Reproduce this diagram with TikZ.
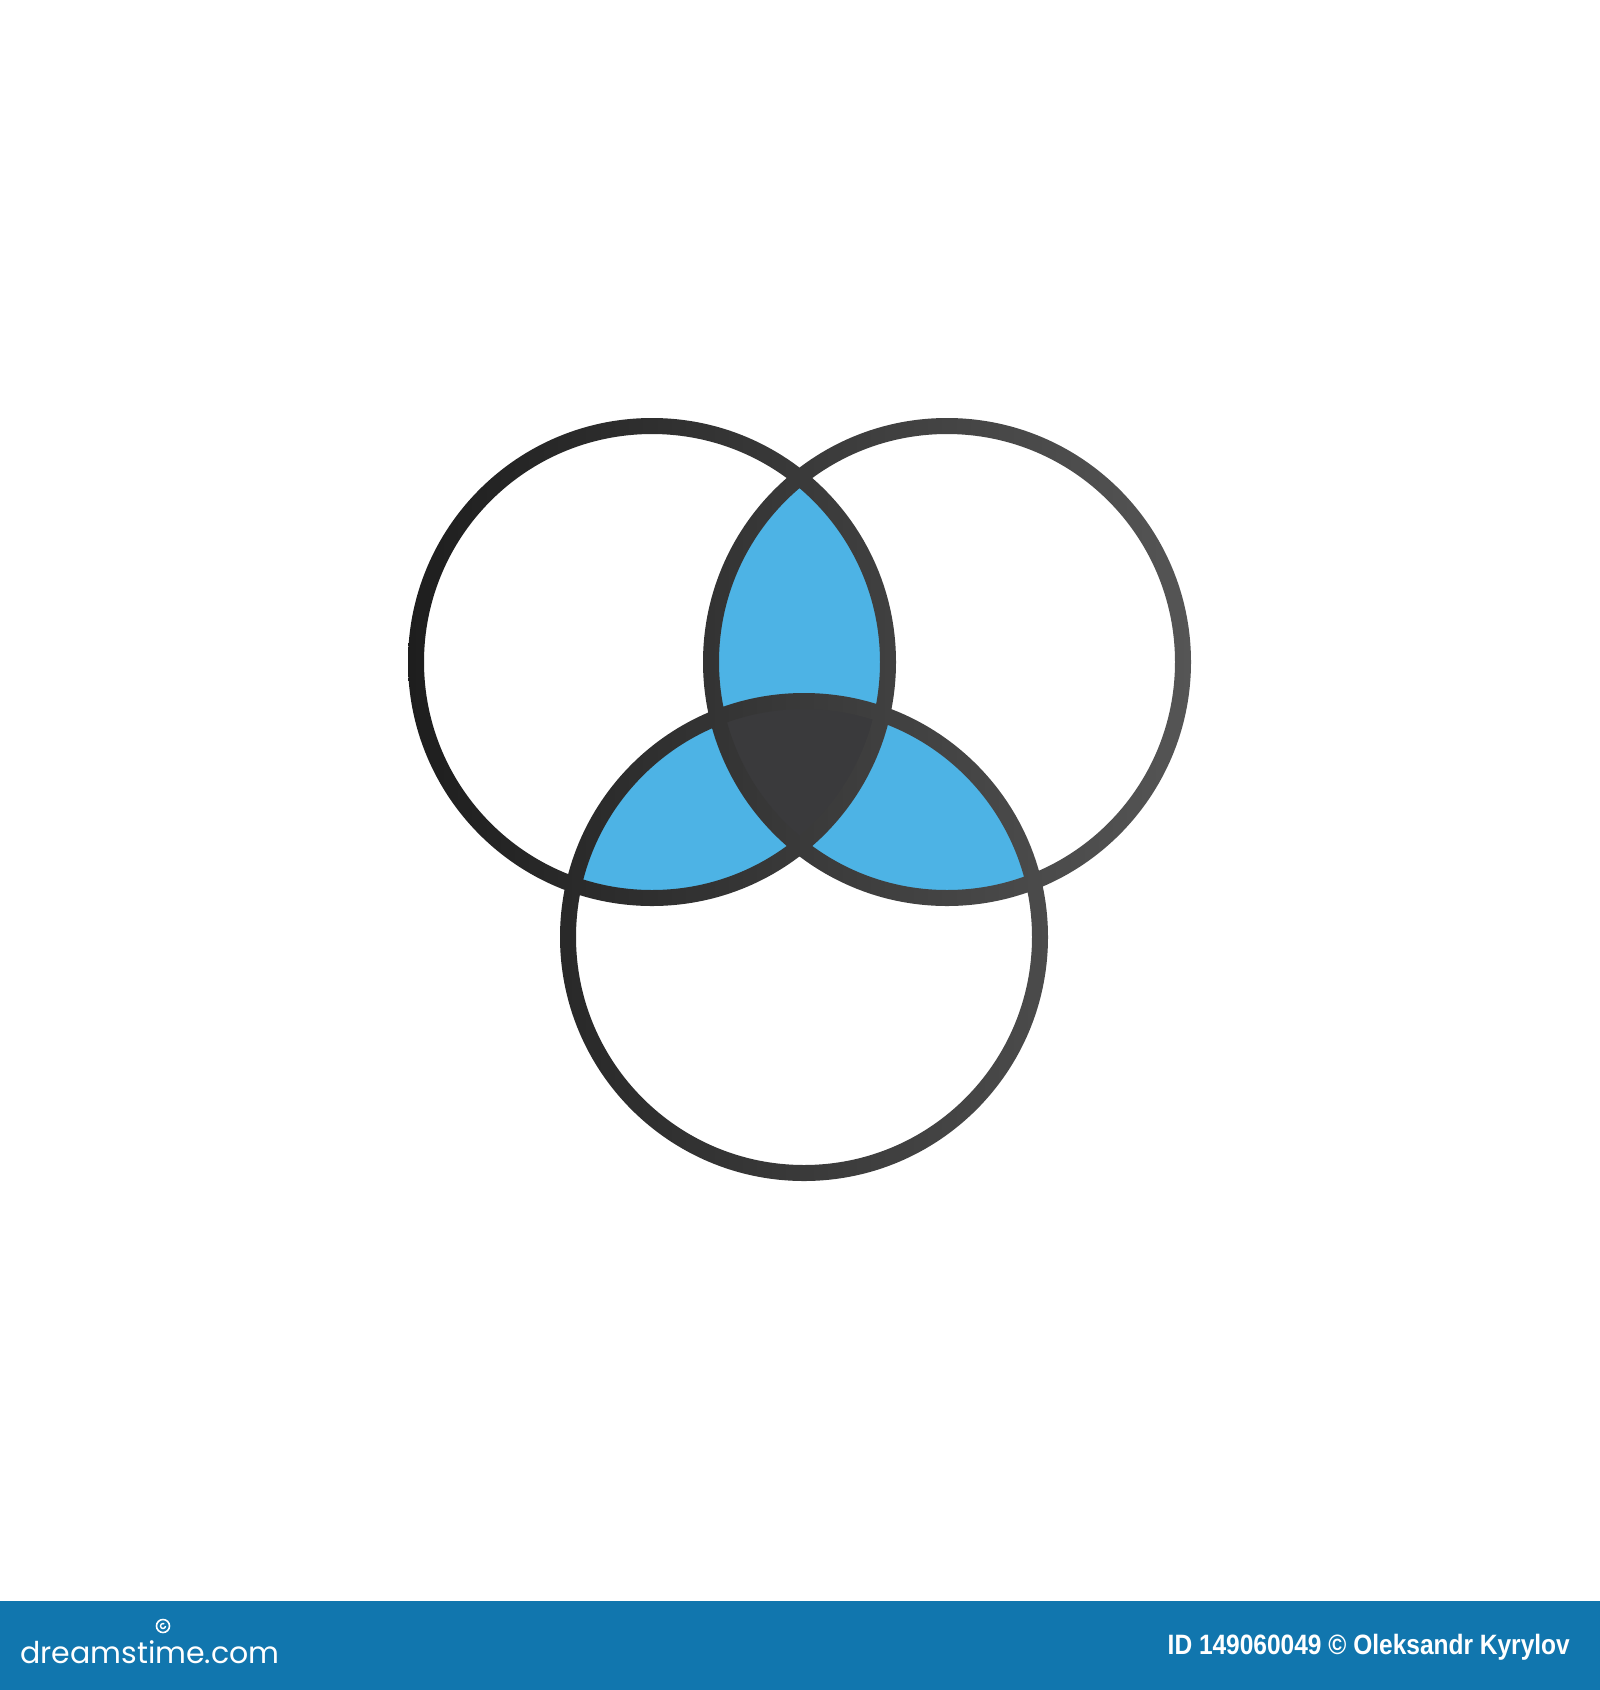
\documentclass[tikz,border=0pt]{standalone}
\usepackage{fontspec}
\setmainfont{Liberation Sans}
\newfontfamily\logofont{Poppins}
\usetikzlibrary{calc}
\definecolor{vblue}{HTML}{4DB3E5}
\definecolor{vdark}{HTML}{3A3A3C}
\definecolor{strokeL}{HTML}{1E1E1E}
\definecolor{strokeR}{HTML}{555555}
\definecolor{banner}{HTML}{1176AE}
\begin{document}
\begin{tikzpicture}[x=1pt,y=-1pt]
\useasboundingbox (0,0) rectangle (1600,1690);
\fill[white] (0,0) rectangle (1600,1690);
\def\R{236}
\def\Ro{244}
\def\Ri{228}
\coordinate (cl) at (652,662);
\coordinate (cr) at (947,662);
\coordinate (cb) at (804,937);
% pairwise lenses
\begin{scope}\clip (cl) circle[radius=\R]; \fill[vblue] (cr) circle[radius=\R];\end{scope}
\begin{scope}\clip (cl) circle[radius=\R]; \fill[vblue] (cb) circle[radius=\R];\end{scope}
\begin{scope}\clip (cr) circle[radius=\R]; \fill[vblue] (cb) circle[radius=\R];\end{scope}
% triple intersection
\begin{scope}\clip (cl) circle[radius=\R]; \clip (cr) circle[radius=\R]; \fill[vdark] (cb) circle[radius=\R];\end{scope}
% rings with a left-to-right gradient
\shade[left color=strokeL, right color=strokeR, nonzero rule]
  ($(cl)+(\Ro,0)$) arc[start angle=0,end angle=360,radius=\Ro] -- cycle
  ($(cl)+(\Ri,0)$) arc[start angle=360,end angle=0,radius=\Ri] -- cycle
  ($(cr)+(\Ro,0)$) arc[start angle=0,end angle=360,radius=\Ro] -- cycle
  ($(cr)+(\Ri,0)$) arc[start angle=360,end angle=0,radius=\Ri] -- cycle
  ($(cb)+(\Ro,0)$) arc[start angle=0,end angle=360,radius=\Ro] -- cycle
  ($(cb)+(\Ri,0)$) arc[start angle=360,end angle=0,radius=\Ri] -- cycle;
% banner
\fill[banner] (0,1601) rectangle (1600,1690);
\node[anchor=west, inner sep=0pt, text=white, font=\logofont\fontsize{30}{30}\selectfont] (logo) at (20,1652) {dreamstime.com};
\coordinate (sp) at (163,1626);
\draw[white, line width=1.6pt] (sp) circle[radius=6.5];
\draw[white, line width=1.4pt] ($(sp)+(2.5,0)$) arc[start angle=0,end angle=300,radius=2.5];
\node[anchor=east, inner sep=0pt, text=white, font=\bfseries\fontsize{28}{28}\selectfont, xscale=0.875] (credit) at (1570,1647) {ID 149060049 © Oleksandr Kyrylov};
\end{tikzpicture}
\end{document}
